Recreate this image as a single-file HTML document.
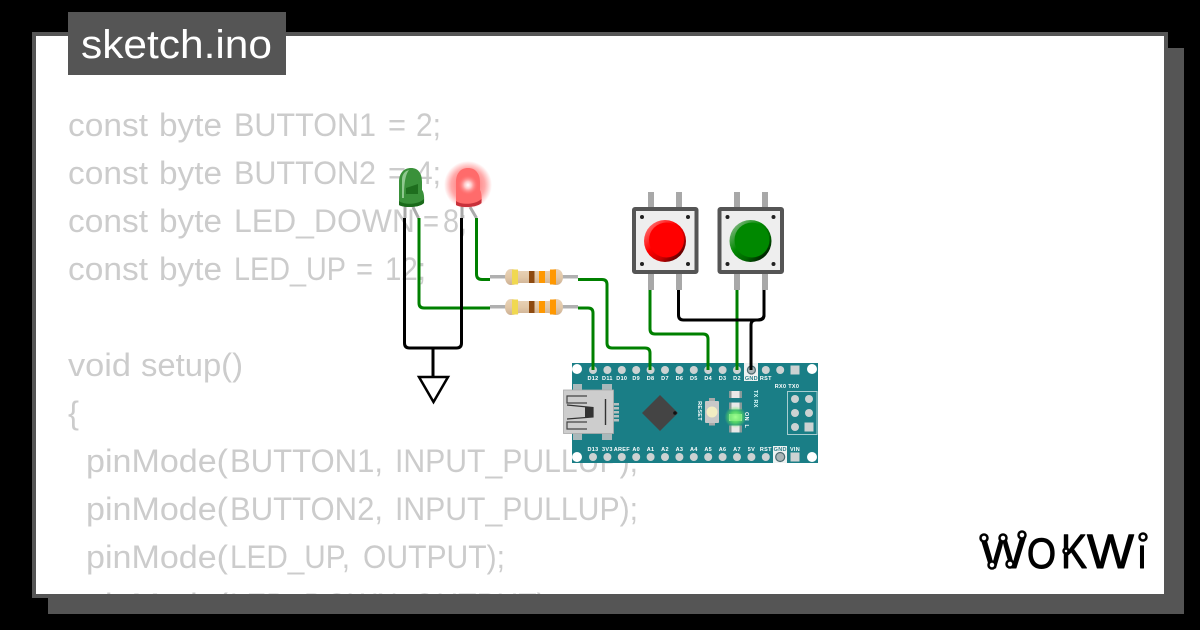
<!DOCTYPE html>
<html><head><meta charset="utf-8"><style>
html,body{margin:0;padding:0;background:#000;width:1200px;height:630px;overflow:hidden}
svg{display:block}
.c text{font-family:"Liberation Sans",sans-serif;font-size:32px;fill:#ccc}
.p{font-family:"Liberation Sans",sans-serif;font-size:5.5px;font-weight:bold;fill:#fff;text-anchor:middle;letter-spacing:.3px}
.l{font-family:"Liberation Sans",sans-serif;fill:#000;stroke:#000;stroke-width:1;stroke-linejoin:round}
</style></head><body>
<svg width="1200" height="630" viewBox="0 0 1200 630" xmlns="http://www.w3.org/2000/svg">
<defs>
<clipPath id="card"><rect x="36" y="36" width="1128" height="558"/></clipPath>
<radialGradient id="glow"><stop offset="0" stop-color="#ff2020" stop-opacity=".8"/><stop offset=".7" stop-color="#ff4040" stop-opacity=".45"/><stop offset="1" stop-color="#ff4040" stop-opacity="0"/></radialGradient>
<radialGradient id="core"><stop offset="0" stop-color="#fff"/><stop offset=".35" stop-color="#ffc8c8"/><stop offset="1" stop-color="#ff7070" stop-opacity="0"/></radialGradient>
<radialGradient id="glg"><stop offset="0" stop-color="#a0ff90"/><stop offset=".5" stop-color="#60e860" stop-opacity=".8"/><stop offset="1" stop-color="#60e860" stop-opacity="0"/></radialGradient>
<linearGradient id="rb" x1=".1" y1=".1" x2=".9" y2=".9"><stop offset="0" stop-color="#ff7070"/><stop offset=".4" stop-color="#f00"/><stop offset=".7" stop-color="#c00"/><stop offset="1" stop-color="#400"/></linearGradient>
<linearGradient id="gb" x1=".1" y1=".1" x2=".9" y2=".9"><stop offset="0" stop-color="#80b880"/><stop offset=".4" stop-color="#080"/><stop offset=".7" stop-color="#060"/><stop offset="1" stop-color="#010"/></linearGradient>
<linearGradient id="rs" x1="0" y1="0" x2="0" y2="1"><stop offset="0" stop-color="#ead3b8"/><stop offset=".5" stop-color="#e2c8a8"/><stop offset="1" stop-color="#cdb094"/></linearGradient>
</defs>
<rect x="48" y="48" width="1136" height="566" fill="#555"/>
<rect x="32" y="32" width="1136" height="566" fill="#555"/>
<rect x="36" y="36" width="1128" height="558" fill="#fff"/>
<g clip-path="url(#card)" class="c">
<text x="68" y="136" textLength="80" lengthAdjust="spacingAndGlyphs">const</text><text x="159" y="136" textLength="63" lengthAdjust="spacingAndGlyphs">byte</text><text x="234" y="136" textLength="142" lengthAdjust="spacingAndGlyphs">BUTTON1</text><text x="388" y="136" textLength="18" lengthAdjust="spacingAndGlyphs">=</text><text x="416" y="136" textLength="25" lengthAdjust="spacingAndGlyphs">2;</text>
<text x="68" y="184" textLength="80" lengthAdjust="spacingAndGlyphs">const</text><text x="159" y="184" textLength="63" lengthAdjust="spacingAndGlyphs">byte</text><text x="234" y="184" textLength="142" lengthAdjust="spacingAndGlyphs">BUTTON2</text><text x="388" y="184" textLength="18" lengthAdjust="spacingAndGlyphs">=</text><text x="416" y="184" textLength="25" lengthAdjust="spacingAndGlyphs">4;</text>
<text x="68" y="232" textLength="80" lengthAdjust="spacingAndGlyphs">const</text><text x="159" y="232" textLength="63" lengthAdjust="spacingAndGlyphs">byte</text><text x="234" y="232" textLength="181" lengthAdjust="spacingAndGlyphs">LED_DOWN</text><text x="423" y="232" textLength="16" lengthAdjust="spacingAndGlyphs">=</text><text x="443" y="232" textLength="24" lengthAdjust="spacingAndGlyphs">8;</text>
<text x="68" y="280" textLength="80" lengthAdjust="spacingAndGlyphs">const</text><text x="159" y="280" textLength="63" lengthAdjust="spacingAndGlyphs">byte</text><text x="234" y="280" textLength="112" lengthAdjust="spacingAndGlyphs">LED_UP</text><text x="356" y="280" textLength="17" lengthAdjust="spacingAndGlyphs">=</text><text x="385" y="280" textLength="41" lengthAdjust="spacingAndGlyphs">12;</text>
<text x="68" y="376" textLength="63" lengthAdjust="spacingAndGlyphs">void</text><text x="141" y="376" textLength="102" lengthAdjust="spacingAndGlyphs">setup()</text>
<text x="68" y="424" textLength="11" lengthAdjust="spacingAndGlyphs">{</text>
<text x="86" y="472" textLength="142" lengthAdjust="spacingAndGlyphs">pinMode(</text><text x="230" y="472" textLength="153" lengthAdjust="spacingAndGlyphs">BUTTON1,</text><text x="395" y="472" textLength="243" lengthAdjust="spacingAndGlyphs">INPUT_PULLUP);</text>
<text x="86" y="520" textLength="142" lengthAdjust="spacingAndGlyphs">pinMode(</text><text x="230" y="520" textLength="153" lengthAdjust="spacingAndGlyphs">BUTTON2,</text><text x="395" y="520" textLength="243" lengthAdjust="spacingAndGlyphs">INPUT_PULLUP);</text>
<text x="86" y="568" textLength="142" lengthAdjust="spacingAndGlyphs">pinMode(</text><text x="230" y="568" textLength="120" lengthAdjust="spacingAndGlyphs">LED_UP,</text><text x="363" y="568" textLength="142" lengthAdjust="spacingAndGlyphs">OUTPUT);</text>
<text x="86" y="616" textLength="142" lengthAdjust="spacingAndGlyphs">pinMode(</text><text x="230" y="616" textLength="176" lengthAdjust="spacingAndGlyphs">LED_DOWN,</text><text x="413" y="616" textLength="142" lengthAdjust="spacingAndGlyphs">OUTPUT);</text>
</g>
<rect x="68" y="12" width="218" height="63" fill="#555"/>
<text x="81" y="58" font-family="Liberation Sans, sans-serif" font-size="40" fill="#fff" textLength="191" lengthAdjust="spacingAndGlyphs">sketch.ino</text>

<!-- board -->
<rect x="572" y="363" width="246" height="100" fill="#1a7e86"/>
<rect x="744" y="363" width="14" height="18" fill="#eef2f2"/>
<rect x="773" y="446" width="14" height="17" fill="#eef2f2"/>
<circle cx="577" cy="369" r="5" fill="#fff"/><circle cx="577" cy="457" r="5" fill="#fff"/>
<circle cx="812" cy="369" r="5" fill="#fff"/><circle cx="812" cy="457" r="5" fill="#fff"/>
<g fill="#ccd2d2">
<circle cx="593" cy="370" r="4"/><circle cx="607.4" cy="370" r="4"/><circle cx="621.8" cy="370" r="4"/><circle cx="636.2" cy="370" r="4"/><circle cx="650.6" cy="370" r="4"/><circle cx="665" cy="370" r="4"/><circle cx="679.4" cy="370" r="4"/><circle cx="693.8" cy="370" r="4"/><circle cx="708.2" cy="370" r="4"/><circle cx="722.6" cy="370" r="4"/><circle cx="737" cy="370" r="4"/><circle cx="765.8" cy="370" r="4"/><circle cx="780.2" cy="370" r="4"/>
<rect x="790.500" y="365.500" width="9" height="9"/>
<circle cx="593" cy="457" r="4"/><circle cx="607.4" cy="457" r="4"/><circle cx="621.8" cy="457" r="4"/><circle cx="636.2" cy="457" r="4"/><circle cx="650.6" cy="457" r="4"/><circle cx="665" cy="457" r="4"/><circle cx="679.4" cy="457" r="4"/><circle cx="693.8" cy="457" r="4"/><circle cx="708.2" cy="457" r="4"/><circle cx="722.6" cy="457" r="4"/><circle cx="737" cy="457" r="4"/><circle cx="751.4" cy="457" r="4"/><circle cx="765.8" cy="457" r="4"/>
<rect x="790.500" y="452.500" width="9" height="9"/>
<circle cx="795" cy="399" r="4"/><circle cx="809" cy="399" r="4"/><circle cx="795" cy="413" r="4"/><circle cx="809" cy="413" r="4"/><circle cx="795" cy="427" r="4"/><rect x="804.500" y="422.500" width="9" height="9"/>
</g>
<circle cx="751.4" cy="370" r="4" fill="#a9b4b6" stroke="#4a6a70" stroke-width="1.2"/>
<circle cx="780.2" cy="457" r="4.500" fill="#a9b4b6" stroke="#4a6a70" stroke-width="1.2"/>
<rect x="787.5" y="391.5" width="29.5" height="43" fill="none" stroke="#a8cdd0" stroke-width="1"/>
<text class="p" x="593" y="380">D12</text><text class="p" x="607.4" y="380">D11</text><text class="p" x="621.8" y="380">D10</text><text class="p" x="636.2" y="380">D9</text><text class="p" x="650.6" y="380">D8</text><text class="p" x="665" y="380">D7</text><text class="p" x="679.4" y="380">D6</text><text class="p" x="693.8" y="380">D5</text><text class="p" x="708.2" y="380">D4</text><text class="p" x="722.6" y="380">D3</text><text class="p" x="737" y="380">D2</text><text class="p" x="751.4" y="380" style="fill:#2a7f88">GND</text><text class="p" x="765.8" y="380">RST</text>
<text class="p" x="787" y="388">RX0 TX0</text>
<text class="p" x="593" y="451">D13</text><text class="p" x="607.4" y="451">3V3</text><text class="p" x="621.8" y="451">AREF</text><text class="p" x="636.2" y="451">A0</text><text class="p" x="650.6" y="451">A1</text><text class="p" x="665" y="451">A2</text><text class="p" x="679.4" y="451">A3</text><text class="p" x="693.8" y="451">A4</text><text class="p" x="708.2" y="451">A5</text><text class="p" x="722.6" y="451">A6</text><text class="p" x="737" y="451">A7</text><text class="p" x="751.4" y="451">5V</text><text class="p" x="765.8" y="451">RST</text><text class="p" x="780.2" y="451" style="fill:#2a7f88">GND</text><text class="p" x="795" y="451">VIN</text>
<!-- usb -->
<rect x="573" y="384" width="9" height="7" fill="#a9b8ba"/><rect x="602" y="384" width="10" height="7" fill="#a9b8ba"/>
<rect x="573" y="433" width="9" height="7" fill="#a9b8ba"/><rect x="602" y="433" width="10" height="7" fill="#a9b8ba"/>
<rect x="613" y="403" width="6" height="2.500" fill="#b5c0c0"/><rect x="613" y="407" width="6" height="2.500" fill="#b5c0c0"/><rect x="613" y="411" width="6" height="2.500" fill="#b5c0c0"/><rect x="613" y="415" width="6" height="2.500" fill="#b5c0c0"/><rect x="613" y="419" width="6" height="2.500" fill="#b5c0c0"/>
<rect x="563.500" y="390" width="50" height="43.500" fill="#cdcdcd" stroke="#aaa" stroke-width=".8"/>
<path d="M605.500 399V425" stroke="#333" stroke-width="1.4"/>
<path d="M587 396H567V403H587M587 422H567V429H587" fill="none" stroke="#444" stroke-width="1.2"/>
<path d="M567 405L593 407.500V417L567 419" fill="none" stroke="#333" stroke-width="1.200"/>
<path d="M585 407L593 407.500V417L585 417.500Z" fill="#333"/>
<!-- chip -->
<path d="M660 395L678 413L660 431L642 413Z" fill="#444"/>
<circle cx="675" cy="413" r="1.8" fill="#111"/>
<!-- reset -->
<rect x="705" y="401" width="14" height="22" fill="#c8c8c8" rx="1"/>
<rect x="709" y="398" width="6" height="3" fill="#aaa"/><rect x="709" y="423" width="6" height="2.500" fill="#aaa"/>
<circle cx="712" cy="412" r="5.500" fill="#f2edc2"/>
<text x="698" y="411" class="p" transform="rotate(90 698 411)">RESET</text>
<!-- leds -->
<g fill="#e8e8e8"><rect x="729" y="391" width="13" height="7"/><rect x="729" y="402.500" width="13" height="7"/><rect x="729" y="414" width="13" height="7"/><rect x="729" y="425.500" width="13" height="7"/></g>
<g fill="#8a9a9a"><rect x="729" y="391" width="2.500" height="7"/><rect x="739.500" y="391" width="2.500" height="7"/><rect x="729" y="402.500" width="2.500" height="7"/><rect x="739.500" y="402.500" width="2.500" height="7"/><rect x="729" y="425.500" width="2.500" height="7"/><rect x="739.500" y="425.500" width="2.500" height="7"/></g>
<circle cx="735.500" cy="417" r="11" fill="url(#glg)"/>
<text x="754" y="390" class="p" transform="rotate(90 754 390)" style="text-anchor:start;fill:#dff">TX RX</text>
<text x="745" y="412" class="p" transform="rotate(90 745 412)" style="text-anchor:start">ON&#160;&#160;L</text>

<!-- buttons -->
<g fill="#a8a8a8">
<rect x="648" y="192" width="6" height="15"/><rect x="676" y="192" width="6" height="15"/><rect x="734" y="192" width="6" height="15"/><rect x="762" y="192" width="6" height="15"/>
<rect x="648" y="274" width="6" height="16"/><rect x="676" y="274" width="6" height="16"/><rect x="734" y="274" width="6" height="16"/><rect x="762" y="274" width="6" height="16"/>
</g>
<rect x="634" y="209" width="62.500" height="63" rx="1" fill="#eee" stroke="#555" stroke-width="4"/>
<rect x="719.500" y="209" width="62.500" height="63" rx="1" fill="#eee" stroke="#555" stroke-width="4"/>
<g fill="#222">
<circle cx="642" cy="217" r="2"/><circle cx="688" cy="217" r="2"/><circle cx="642" cy="264" r="2"/><circle cx="688" cy="264" r="2"/>
<circle cx="727.500" cy="217" r="2"/><circle cx="773.500" cy="217" r="2"/><circle cx="727.500" cy="264" r="2"/><circle cx="773.500" cy="264" r="2"/>
</g>
<circle cx="665" cy="241" r="21" fill="url(#rb)"/><circle cx="666.500" cy="240" r="17.500" fill="#f00"/>
<circle cx="750.500" cy="241" r="21" fill="url(#gb)"/><circle cx="752" cy="240" r="17.500" fill="#080"/>

<!-- resistors -->
<g fill="#b0b0b0"><rect x="490" y="275" width="16" height="3.500"/><rect x="562" y="275" width="16" height="3.500"/><rect x="490" y="305" width="16" height="3.500"/><rect x="562" y="305" width="16" height="3.500"/></g>
<path d="M511 269C516 269 517 271 520 271H548C551 271 552 269 556 269C561 269 563 273 563 277C563 281 561 285 556 285C552 285 551 283 548 283H520C517 283 516 285 511 285C507 285 505 281 505 277C505 273 507 269 511 269Z" fill="url(#rs)"/>
<rect x="512" y="269.500" width="6" height="15" fill="#f0d850"/><rect x="529" y="271" width="5.500" height="12" fill="#8e4a10"/><rect x="539" y="271" width="6" height="12" fill="#ff9800"/><rect x="550" y="269.500" width="6" height="15" fill="#ff9800"/>
<g transform="translate(0,30)"><path d="M511 269C516 269 517 271 520 271H548C551 271 552 269 556 269C561 269 563 273 563 277C563 281 561 285 556 285C552 285 551 283 548 283H520C517 283 516 285 511 285C507 285 505 281 505 277C505 273 507 269 511 269Z" fill="url(#rs)"/>
<rect x="512" y="269.500" width="6" height="15" fill="#f0d850"/><rect x="529" y="271" width="5.500" height="12" fill="#8e4a10"/><rect x="539" y="271" width="6" height="12" fill="#ff9800"/><rect x="550" y="269.500" width="6" height="15" fill="#ff9800"/></g>

<!-- LED legs -->
<g stroke="#aaa" stroke-width="3" fill="none">
<path d="M405 206V218"/><path d="M413 207L418.500 218"/>
<path d="M462 206V218"/><path d="M470 207L476.500 218"/>
</g>
<!-- green LED -->
<path d="M399 205V182C399 173 404 168 411 168C418 168 422 173 422 182V190C424 192 424.500 198 424 203C419 208 404 208 399 205Z" fill="#3a913a"/>
<path d="M399 201C404 205 418 205 424 199V203C419 208 404 208 399 205Z" fill="#1a6a1a"/>
<path d="M402 180C402 174 405 171 409 170C405 175 404 185 404 198H402Z" fill="#8fc88f"/>
<path d="M406 188L418 184V194H406Z" fill="#1e6e1e"/>
<!-- red LED -->
<circle cx="468" cy="185" r="24" fill="url(#glow)"/>
<path d="M456 205V182C456 173 461 168 468 168C475 168 480 173 480 182V190C481.500 192 482 198 481.500 203C476 208 461 208 456 205Z" fill="#ff6b6b"/>
<path d="M456 201C461 205 475 205 481.500 199V203C476 208 461 208 456 205Z" fill="#c8303a"/>
<circle cx="468" cy="185" r="10" fill="url(#core)"/>

<!-- wires -->
<g fill="none" stroke="#008000" stroke-width="3">
<path d="M419 218V303Q419 308 424 308H490"/>
<path d="M476.500 218V274Q476.500 279.500 482 279.500H490"/>
<path d="M578 279.500H602Q607 279.500 607 284.500V343Q607 348 612 348H645Q650 348 650 353V370"/>
<path d="M578 308H588Q593 308 593 313V370"/>
<path d="M650 290V329Q650 334 655 334H703Q708 334 708 339V370"/>
<path d="M737 290V370"/>
</g>
<g fill="none" stroke="#000" stroke-width="3">
<path d="M404.500 218V343Q404.500 348 409.500 348H456.500Q461.500 348 461.500 343V218"/>
<path d="M433 348V377"/>
<path d="M678.500 290V315Q678.500 320 683.500 320H759Q764 320 764 315V290"/>
<path d="M764 315Q764 320 756 320Q751 320 751 325V370"/>
<path d="M419 377H448L433.500 402Z" fill="#fff" stroke-width="2.500"/>
</g>

<!-- logo -->
<text class="l" x="980" y="568" font-size="46" textLength="46" lengthAdjust="spacingAndGlyphs">W</text>
<text class="l" x="1027" y="568" font-size="43" textLength="29" lengthAdjust="spacingAndGlyphs">O</text>
<text class="l" x="1061" y="568" font-size="48" textLength="26" lengthAdjust="spacingAndGlyphs">K</text>
<text class="l" x="1087" y="568" font-size="48" textLength="47" lengthAdjust="spacingAndGlyphs">W</text>
<text class="l" x="1137" y="568" font-size="42" textLength="10" lengthAdjust="spacingAndGlyphs">ı</text>
<g fill="#fff" stroke="#000" stroke-width="2.500">
<circle cx="984" cy="538" r="3.500"/><circle cx="1003" cy="538" r="3.500"/><circle cx="1022" cy="535" r="3.500"/><circle cx="992" cy="565" r="3.500"/><circle cx="1010" cy="564" r="3.500"/><circle cx="1066" cy="551" r="2.500"/><circle cx="1143" cy="537" r="3.500"/>
</g>
</svg>
</body></html>
